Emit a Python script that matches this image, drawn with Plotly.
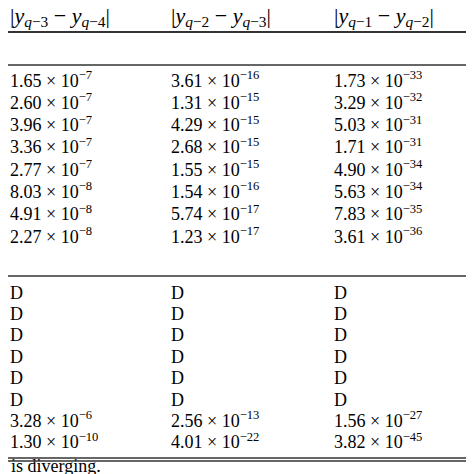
import plotly.graph_objects as go

headers = ["|<i>y</i><sub><i>q</i>−3</sub> − <i>y</i><sub><i>q</i>−4</sub>|",
           "|<i>y</i><sub><i>q</i>−2</sub> − <i>y</i><sub><i>q</i>−3</sub>|",
           "|<i>y</i><sub><i>q</i>−1</sub> − <i>y</i><sub><i>q</i>−2</sub>|"]

group1_col1 = ["1.65e-7", "2.60e-7", "3.96e-7", "3.36e-7", "2.77e-7", "8.03e-8", "4.91e-8", "2.27e-8"]
group1_col2 = ["3.61e-16", "1.31e-15", "4.29e-15", "2.68e-15", "1.55e-15", "1.54e-16", "5.74e-17", "1.23e-17"]
group1_col3 = ["1.73e-33", "3.29e-32", "5.03e-31", "1.71e-31", "4.90e-34", "5.63e-34", "7.83e-35", "3.61e-36"]

group2_col1 = ["D", "D", "D", "D", "D", "D", "3.28e-6", "1.30e-10"]
group2_col2 = ["D", "D", "D", "D", "D", "D", "2.56e-13", "4.01e-22"]
group2_col3 = ["D", "D", "D", "D", "D", "D", "1.56e-27", "3.82e-45"]

footer = "is diverging."


def fmt(v):
    if v == "D":
        return "D"
    m, e = v.split("e")
    return f"{m} × 10<sup>−{e.lstrip('-')}</sup>"


col_x = [2, 163, 326]
serif = "Liberation Serif, DejaVu Serif, serif"
body_font = dict(family=serif, size=18, color="black")
head_font = dict(family=serif, size=22, color="black")

xs, ys, texts = [], [], []
for cx, col in zip(col_x, [group1_col1, group1_col2, group1_col3]):
    for i, v in enumerate(col):
        xs.append(cx); ys.append(74 + i * 22.3); texts.append(fmt(v))
for cx, col in zip(col_x, [group2_col1, group2_col2, group2_col3]):
    for i, v in enumerate(col):
        xs.append(cx); ys.append(286 + i * 21.4); texts.append(fmt(v))
xs.append(3); ys.append(459); texts.append(footer)

fig = go.Figure()
fig.add_trace(go.Scatter(x=col_x, y=[9] * 3, text=headers, mode="text",
                         textposition="middle right", textfont=head_font,
                         hoverinfo="skip"))
fig.add_trace(go.Scatter(x=xs, y=ys, text=texts, mode="text",
                         textposition="middle right", textfont=body_font,
                         hoverinfo="skip"))

line_style = [(24, 2.2), (57, 1.5), (268, 1.5), (450, 1.5), (453, 1.5)]
for y, w in line_style:
    fig.add_shape(type="line", x0=0, x1=474, y0=y, y1=y,
                  line=dict(color="#333", width=w), xref="x", yref="y")

fig.update_layout(
    width=474, height=474, margin=dict(l=0, r=0, t=0, b=0),
    plot_bgcolor="white", paper_bgcolor="white", showlegend=False,
    xaxis=dict(range=[0, 474], visible=False, fixedrange=True),
    yaxis=dict(range=[474, 0], visible=False, fixedrange=True),
)
fig.write_html("out.html")
